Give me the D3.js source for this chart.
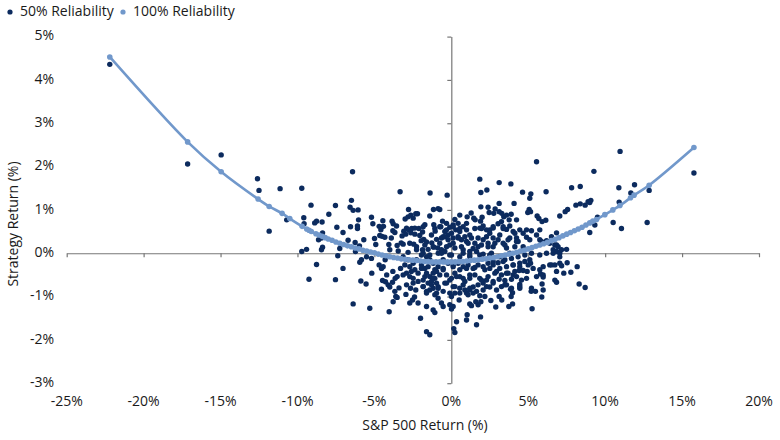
<!DOCTYPE html>
<html>
<head>
<meta charset="utf-8">
<script src="https://cdn.jsdelivr.net/npm/d3@7"></script>
<style>
	body { margin: 0; background: #fff; }
	svg text { font-family: "Open Sans", sans-serif; fill: #1a1a1a; }
</style>
</head>
<body>
<svg id="chart" width="780" height="440"></svg>
<script>
// S&P 500 return (%) vs strategy return (%), 50% reliability signal
let half = [
	[-22.2,4.36],[-17.14,2.06],[-14.96,2.27],[-12.6,1.72],[-12.5,1.45],[-11.13,1.49],[-11.84,0.51],[-10.7,0.77],
	[-6.42,1.88],[-9.72,1.50],[-3.33,1.42],[-1.38,1.39],[-9.12,1.11],[-7.53,1.10],[-6.49,1.22],[-6.58,1.06],[-6.38,0.99],[-6.06,1.00],
	[-2.78,1.01],[-2.31,0.91],[-2.20,0.91],[-1.16,1.01],[-0.86,1.03],[-7.96,0.90],[-9.59,0.82],[-9.57,0.68],[-8.88,0.70],[-8.76,0.74],
	[-8.40,0.72],[-6.03,0.77],[-6.10,0.63],[-6.10,0.57],[-5.19,0.83],[-5.10,0.68],[-4.45,0.75],[-3.85,0.74],[-3.78,0.68],[-3.56,0.63],
	[-3.00,0.79],[-2.81,0.84],[-2.63,0.88],[-2.48,0.81],[-1.40,0.86],[-1.72,0.66],[-1.14,0.66],[-7.44,0.60],[-6.55,0.61],[-4.69,0.62],
	[-4.54,0.60],[-4.41,0.62],[-4.58,0.54],[-2.91,0.58],[-2.78,0.54],[-2.57,0.57],[-2.37,0.58],[-2.11,0.57],[-7.04,0.48],[-8.37,0.47],
	[-8.50,0.40],[-8.63,0.31],[-8.44,0.35],[-3.80,0.52],[-3.67,0.48],[-3.09,0.51],[-2.96,0.44],[-2.63,0.47],[-2.37,0.44],[-2.05,0.41],
	[-1.87,0.49],[-1.05,0.51],[-4.99,0.34],[-4.65,0.41],[-4.50,0.39],[-4.32,0.37],[-5.69,0.31],[-6.71,0.30],[-6.25,0.25],[-5.97,0.17],
	[-4.91,0.20],[-4.06,0.20],[-3.52,0.18],[-3.26,0.24],[-3.13,0.21],[-2.70,0.23],[-2.44,0.21],[-2.26,0.15],[-1.96,0.29],[-1.79,0.32],
	[-1.61,0.26],[-1.27,0.24],[-0.96,0.32],[-0.88,0.12],[-1.14,0.14],[-1.51,0.09],[-1.87,0.08],[-2.26,0.08],[-9.72,0.04],[-9.41,0.09],
	[-8.44,0.08],[-8.37,0.14],[-7.25,0.11],[-6.23,0.04],[-4.00,0.08],[-2.81,0.02],
	[-7.38,-0.06],[-8.76,-0.26],[-7.04,-0.35],[-5.95,-0.21],[-5.84,-0.15],[-5.51,-0.08],[-5.19,-0.12],[-4.69,-0.27],[-4.54,-0.35],
	[-4.43,-0.31],[-5.17,-0.46],[-9.25,-0.60],[-7.53,-0.61],[-5.88,-0.64],[-5.54,-0.71],[-4.47,-0.63],[-4.28,-0.66],[-4.11,-0.73],
	[-4.0,-0.78],[-4.54,-0.83],[-3.82,-0.67],[-3.65,-0.58],[-3.52,-0.54],[-3.67,-0.88],[-3.61,-1.0],[-3.52,-1.02],[-3.78,-1.12],
	[-6.38,-1.17],[-5.30,-1.27],[-4.04,-1.35],[-2.70,-1.15],[-2.52,-1.08],[-2.39,-1.01],[-2.16,-1.15],[-1.61,-1.23],[-1.18,-1.31],
	[-1.07,-1.37],[-2.0,-1.50],[-1.61,-1.81],[-1.40,-1.88],
	[-3.13,-0.08],[-2.81,-0.15],[-3.02,-0.27],[-2.70,-0.31],[-2.48,-0.23],[-2.26,-0.15],[-2.37,-0.38],[-2.16,-0.46],[-2.91,-0.46],
	[-2.70,-0.54],[-3.13,-0.50],[-1.94,-0.27],[-1.72,-0.35],[-1.61,-0.46],[-1.40,-0.54],[-1.83,-0.62],[-1.51,-0.69],[-1.29,-0.65],
	[-1.07,-0.58],[-0.96,-0.69],[-0.86,-0.77],[-1.18,-0.81],[-1.40,-0.85],[-1.61,-0.88],[-0.96,-0.92],[-0.86,-1.04],[-1.83,-0.77],
	[-2.16,-0.65],[-2.48,-0.58],[-1.94,-0.04],[-1.61,-0.08],[-1.40,-0.15],[-1.18,-0.23],[-0.86,-0.31],[-0.96,-0.42],[-1.18,-0.46],
	[-2.91,-0.73],[-2.65,-0.81],[-2.48,-0.69],[-2.31,-0.85],
	[5.54,2.11],[1.85,1.71],[3.11,1.63],[3.87,1.60],[-0.27,1.34],[1.92,1.40],[2.31,1.46],[4.63,1.41],[5.17,1.37],[5.10,1.27],
	[6.16,1.42],[7.82,1.51],[8.38,1.54],[-0.75,1.01],[1.92,1.07],[2.39,1.06],[3.11,1.15],[4.08,1.15],[5.06,1.01],[5.15,0.96],
	[4.97,0.94],[5.58,0.86],[5.69,0.80],[5.90,0.73],[6.14,0.76],[7.40,0.96],[7.56,1.01],[8.10,1.11],[8.38,1.14],[8.70,1.11],
	[8.89,1.19],[7.05,0.86],[1.29,0.93],[0.55,0.88],[1.03,0.84],[1.46,0.81],[1.55,0.77],[1.90,0.74],[2.00,0.83],[2.46,0.94],
	[2.76,0.92],[2.85,1.02],[3.11,0.96],[3.28,0.92],[3.41,0.84],[3.59,0.88],[3.89,0.90],[3.76,0.77],
	[0.23,0.78],[0.44,0.69],[0.12,0.65],[-0.1,0.60],[-0.31,0.69],[-0.57,0.74],[-0.68,0.61],[-0.42,0.50],[-0.21,0.42],[0.01,0.46],
	[0.29,0.54],[0.55,0.50],[0.77,0.61],[0.99,0.69],
	[1.85,0.58],[2.07,0.63],[2.29,0.54],[2.50,0.46],[2.72,0.58],[3.04,0.68],[3.26,0.73],[3.37,0.61],[3.59,0.55],[3.80,0.63],
	[4.02,0.50],[4.24,0.77],[4.45,0.54],[4.67,0.46],[4.89,0.37],[5.21,0.52],[5.54,0.42],[5.75,0.54],[5.86,0.27],[6.19,0.29],
	[6.51,0.38],[6.84,0.47],[6.73,0.19],[6.94,0.15],[7.49,0.09],
	[-0.53,0.38],[-0.21,0.31],[0.12,0.35],[0.44,0.38],[0.66,0.31],[0.99,0.27],[1.31,0.35],[1.53,0.23],[1.74,0.15],[2.07,0.31],
	[2.39,0.23],[2.72,0.15],[3.04,0.31],[3.37,0.23],[3.59,0.12],[3.80,0.35],[4.13,0.15],[4.34,0.27],[4.67,0.15],[-0.31,0.15],
	[0.23,0.12],[0.77,0.08],[1.20,0.04],[-0.64,0.08],
	[6.84,0.04],[5.75,-0.04],[6.19,0.0],[6.62,0.0],[7.05,-0.08],[5.10,-0.15],[5.15,-0.23],[6.73,-0.27],[7.17,-0.29],[7.53,-0.22],
	[8.18,-0.31],[5.75,-0.38],[5.80,-0.48],[5.97,-0.55],[7.31,-0.46],[7.77,-0.44],[6.84,-0.67],[8.31,-0.71],[8.70,-0.79],[5.90,-0.71],
	[4.89,-0.58],[4.41,-0.40],[4.67,-0.40],[4.93,-0.42],[4.45,-0.72],[4.45,-0.81],[5.19,-0.88],[5.47,-0.88],[5.88,-1.01],[5.25,-1.28],
	[3.98,-0.91],[3.89,-1.0],[3.98,-1.17],[3.74,-1.23],[3.28,-1.08],[3.11,-1.0],[2.89,-1.24],[2.57,-1.09],[1.85,-0.98],[1.92,-1.12],
	[1.74,-1.19],[1.59,-1.12],[1.31,-1.21],[1.20,-1.17],[1.90,-1.47],[1.64,-1.65],[1.03,-1.42],[0.99,-1.54],[0.34,-1.58],[0.16,-1.74],
	[0.23,-1.83],[0.12,-1.23],[0.01,-1.29],[-0.10,-1.19],[0.51,-1.08],[-0.53,-1.23],[-0.64,-1.15],[-0.10,-0.92],[0.23,-0.92],[0.99,-0.92],
	[1.20,-0.85],[1.42,-0.78],[2.50,-0.78],[2.94,-0.85],[3.26,-0.77],[3.59,-0.73],[3.85,-0.83],[2.29,-0.62],[2.72,-0.65],[3.11,-0.60],
	[3.48,-0.63],[3.91,-0.60],[4.24,-0.54],[2.83,-0.46],[3.26,-0.50],[3.69,-0.46],[4.13,-0.42],[3.15,-0.35],[3.59,-0.31],[4.02,-0.27],
	[4.45,-0.23],[4.78,-0.19],[5.0,-0.27],
	[-0.53,-0.38],[-0.31,-0.50],[-0.10,-0.62],[0.23,-0.46],[0.55,-0.54],[0.88,-0.65],[1.20,-0.58],[1.53,-0.50],[1.85,-0.58],[2.07,-0.69],
	[-0.42,-0.69],[0.12,-0.77],[0.55,-0.81],[0.88,-0.85],[1.42,-0.92],[2.07,-0.85],
	[-0.53,-0.15],[-0.21,-0.23],[0.12,-0.27],[0.44,-0.23],[0.77,-0.31],[1.09,-0.27],[1.42,-0.35],[1.74,-0.27],[2.07,-0.31],[2.39,-0.23],
	[2.72,-0.27],[3.04,-0.22],[3.48,-0.15],[3.91,-0.12],[4.34,-0.08],[4.78,-0.04],[5.21,0.0],[-0.64,0.0],[-0.10,-0.04],[0.55,-0.08],
	[1.20,-0.08],[1.85,-0.04],[2.50,-0.04],[3.15,-0.08],[3.80,0.0],[6.40,-0.27],
	[10.97,2.35],[9.27,1.89],[15.77,1.85],[10.89,1.51],[11.91,1.58],[11.67,1.39],[12.86,1.45],[9.07,1.22],[9.0,1.17],[10.91,1.18],
	[9.5,0.83],[9.33,0.65],[10.52,0.71],[11.06,0.57],[12.73,0.71],[9.0,0.48],
	[-1.83,0.61],[-1.07,0.57],[-0.75,0.61],[-0.31,0.54],[0.12,0.61],[0.55,0.57],[0.99,0.54],[1.53,0.57],[1.96,0.57],[2.50,0.54],
	[-1.29,0.42],[-0.64,0.35],[-0.42,0.38],[0.45,0.35],[0.88,0.38],[1.20,0.42],[1.74,0.35],[2.29,0.38],[2.72,0.35],
	[-1.72,0.19],[-1.18,0.15],[-0.75,0.23],[-0.10,0.19],[0.12,0.23],[0.66,0.15],[1.09,0.23],[1.42,0.11],[1.96,0.19],[2.39,0.15],
	[-1.83,0.0],[-1.40,-0.04],[-0.85,0.0],[-0.42,0.04],[0.01,-0.04],[0.77,0.0],[1.20,-0.04],[1.64,0.04],[2.07,-0.02],[2.61,0.0],
	[-1.94,-0.35],[-1.51,-0.31],[-1.07,-0.38],[-0.53,-0.35],[0.12,-0.31],[0.55,-0.38],[0.99,-0.35],[1.53,-0.33],[2.18,-0.38],[2.50,-0.35],
	[-1.72,-0.54],[-1.18,-0.58],[-0.75,-0.50],[0.01,-0.58],[0.34,-0.54],[0.77,-0.58],[1.20,-0.50],[1.96,-0.62],[2.39,-0.54],
	[-1.83,-0.77],[-1.29,-0.73],[-0.85,-0.81],[-0.31,-0.69],[0.23,-0.77],[0.77,-0.73],[1.20,-0.81],[1.74,-0.73],[2.29,-0.77],
	[-1.61,-0.92],[-1.07,-0.96],[-0.53,-0.88],[0.01,-1.0],[0.55,-0.92],[1.09,-0.96],[1.64,-0.88],[2.18,-1.0],
	[2.72,0.61],[3.37,0.57],[4.13,0.46],[4.89,0.54],[5.75,0.31],[3.15,0.42],[3.69,0.31],[4.24,0.35],[5.10,0.31],[6.40,0.23],
	[6.84,0.19],[7.16,0.08],[2.83,0.23],[3.48,0.19],[4.24,0.27],[6.62,0.08],[7.05,0.0],
	[2.72,-0.19],[3.37,-0.19],[4.02,-0.27],[4.45,-0.31],[5.32,-0.35],[5.97,-0.31],[6.51,-0.27],[7.05,-0.23],
	[2.94,-0.42],[3.59,-0.46],[4.02,-0.50],[4.56,-0.62],[5.54,-0.54],[5.97,-0.50],[6.84,-0.42],
	[2.72,-0.69],[3.48,-0.73],[3.91,-0.81],[4.45,-0.77],[5.21,-0.81],[5.97,-0.85],[6.73,-0.62],
	[-3.30,-0.35],[-3.80,-0.42],[-4.20,-0.50],[-3.40,-0.80],[-2.95,-0.95],[-2.60,-0.42],[-3.45,0.05],[-4.30,-0.15],[-3.90,0.35],[-3.20,0.40]
]

// 100% reliability: points
let full = [
	[-22.2,4.53],[-17.14,2.57],[-14.96,1.88],[-12.56,1.25],[-11.84,1.08],[-11.0,0.92],[-10.5,0.80],[-9.7,0.62],[-9.4,0.56],
	[-9.25,0.53],[-9.1,0.50],[-8.8,0.45],[-8.6,0.42],[-8.4,0.39],[-8.2,0.36],[-8.0,0.33],[-7.75,0.30],[-7.5,0.26],[-7.25,0.23],
	[-7.0,0.20],[-6.75,0.17],[-6.5,0.15],[-6.25,0.12],[-6.0,0.10],[-5.75,0.07],[-5.5,0.05],[-5.25,0.03],[-5.0,0.01],[-4.75,-0.02],
	[-4.5,-0.04],[-4.25,-0.06],[-4.0,-0.08],[-3.75,-0.10],[-3.5,-0.11],[-3.25,-0.13],[-3.0,-0.14],[-2.75,-0.15],[-2.5,-0.16],
	[-2.25,-0.17],[-2.0,-0.18],[-1.75,-0.19],[-1.5,-0.19],[-1.25,-0.20],[-1.0,-0.20],[-0.75,-0.20],[-0.5,-0.20],[-0.25,-0.20],
	[0.0,-0.20],[0.25,-0.20],[0.5,-0.19],[0.75,-0.19],[1.0,-0.18],[1.25,-0.17],[1.5,-0.16],[1.75,-0.15],[2.0,-0.14],[2.25,-0.13],
	[2.5,-0.11],[2.75,-0.10],[3.0,-0.08],[3.25,-0.06],[3.5,-0.04],[3.75,-0.02],[4.0,0.0],[4.25,0.02],[4.5,0.05],[4.75,0.07],
	[5.0,0.10],[5.25,0.13],[5.5,0.16],[5.75,0.19],[6.0,0.22],[6.25,0.25],[6.5,0.29],[6.75,0.32],[7.0,0.36],[7.25,0.40],[7.5,0.44],
	[7.75,0.48],[8.0,0.52],[8.25,0.56],[8.5,0.60],[8.75,0.65],[9.0,0.70],[9.2,0.74],[9.44,0.78],[9.98,0.89],
	[10.5,1.00],[10.96,1.10],[11.65,1.28],[11.88,1.34],[12.86,1.57],[15.77,2.44]
]

let xTicks = [-25, -20, -15, -10, -5, 0, 5, 10, 15, 20]
let yTicks = [-3, -2, -1, 0, 1, 2, 3, 4, 5]
let seriesNames = ['50% Reliability', '100% Reliability']
let seriesColors = ['#0c2b5e', '#7198cb']

let svg = d3.select('#chart')

let x = d3.scaleLinear().domain([-25, 20]).range([66.7, 759])
let y = d3.scaleLinear().domain([-3, 5]).range([383.2, 36.6])

// axes cross at zero, labels sit at the plot edges
svg.append('g')
	.attr('transform', `translate(0, ${y(0)})`)
	.call(d3.axisBottom(x).tickValues(xTicks).tickSize(4).tickSizeOuter(0).tickFormat(''))
svg.append('g')
	.attr('transform', `translate(${x(0)}, 0)`)
	.call(d3.axisLeft(y).tickValues(yTicks).tickSize(4).tickSizeOuter(0).tickFormat(''))
svg.selectAll('.domain, .tick line').attr('stroke', '#777').attr('stroke-width', 1.2)

svg.append('g').selectAll('text').data(xTicks).join('text')
	.attr('x', d => x(d)).attr('y', 402)
	.attr('text-anchor', 'middle').attr('dominant-baseline', 'middle')
	.style('font-size', '14px')
	.text(d => d + '%')
svg.append('g').selectAll('text').data(yTicks).join('text')
	.attr('x', 54).attr('y', d => y(d))
	.attr('text-anchor', 'end').attr('dominant-baseline', 'middle')
	.style('font-size', '14px')
	.text(d => d + '%')

svg.append('text')
	.attr('x', 425).attr('y', 426)
	.attr('text-anchor', 'middle').attr('dominant-baseline', 'middle')
	.style('font-size', '14px')
	.text('S&P 500 Return (%)')
svg.append('text')
	.attr('transform', 'translate(14, 224) rotate(-90)')
	.attr('text-anchor', 'middle').attr('dominant-baseline', 'middle')
	.style('font-size', '14px')
	.text('Strategy Return (%)')

// scatter
svg.append('g').selectAll('circle').data(half).join('circle')
	.attr('cx', d => x(d[0])).attr('cy', d => y(d[1]))
	.attr('r', 2.7)
	.attr('fill', seriesColors[0])

// fitted curve
let line = d3.line()
	.x(d => x(d[0])).y(d => y(d[1]))
	.curve(d3.curveCatmullRom)
svg.append('path')
	.attr('d', line(full))
	.attr('fill', 'none')
	.attr('stroke', seriesColors[1])
	.attr('stroke-width', 2.6)
svg.append('g').selectAll('circle').data(full).join('circle')
	.attr('cx', d => x(d[0])).attr('cy', d => y(d[1]))
	.attr('r', 2.8)
	.attr('fill', seriesColors[1])

// legend
let legend = svg.append('g')
let legendX = [10, 123]
seriesNames.forEach((n, i) => {
	legend.append('circle')
		.attr('cx', legendX[i]).attr('cy', 12).attr('r', 2.6)
		.attr('fill', seriesColors[i])
	legend.append('text')
		.attr('x', legendX[i] + 10).attr('y', 12)
		.attr('dominant-baseline', 'middle')
		.style('font-size', '14px')
		.text(n)
})
</script>
</body>
</html>
